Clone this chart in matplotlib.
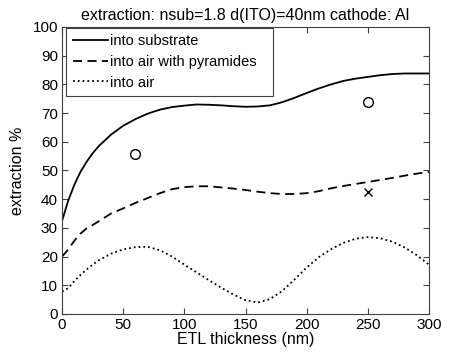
import numpy as np
from matplotlib import pyplot as plt

# ETL thickness (nm)
thickness = [0, 5, 10, 15, 20, 25, 30, 40, 50, 60, 70, 80, 90, 100, 110, 120, 130, 140, 150,
             160, 170, 180, 190, 200, 210, 220, 230, 240, 250, 260, 270, 280, 290, 300]

# extraction %
into_substrate = [32.5, 39.5, 45, 49.5, 53, 56, 58.5, 62.5, 65.6, 67.9, 69.8, 71.2, 72.1,
                  72.6, 73, 72.9, 72.7, 72.4, 72.2, 72.3, 72.7, 73.8, 75.3, 77, 78.6, 80,
                  81.2, 82, 82.6, 83.2, 83.6, 83.8, 83.8, 83.8]
into_air_pyr = [20, 22.5, 25.5, 28, 29.8, 31, 32.3, 35, 36.8, 38.7, 40.4, 42.1, 43.5, 44.2,
                44.5, 44.5, 44.1, 43.7, 43.2, 42.6, 42.1, 41.8, 41.8, 42.1, 42.8, 43.8, 44.6,
                45.3, 46, 46.7, 47.4, 48.2, 48.9, 49.5]
into_air = [7.8, 9, 11.5, 13.6, 15.5, 17.2, 18.7, 21, 22.5, 23.3, 23.4, 22.2, 20, 17.2, 14.5,
            11.8, 9.2, 6.8, 4.8, 4.0, 5.2, 8, 12, 16.2, 19.8, 22.6, 24.8, 26.2, 26.8, 26.4,
            25.2, 23.2, 20.5, 17.2]

# measured points
meas_x = [60, 250]
meas_circle = [55.6, 74]
cross_x = [250]
cross_y = [42.5]

plt.rcParams['font.family'] = ['Liberation Sans', 'DejaVu Sans']
plt.rcParams['font.size'] = 11

fig = plt.figure(figsize=(4.74, 3.55), dpi=100)
ax = fig.add_axes([0.131, 0.1155, 0.774, 0.8085])

ax.plot(thickness, into_substrate, '-', color='black', lw=1.3, label='into substrate')
ax.plot(thickness, into_air_pyr, '--', color='black', lw=1.3, dashes=(5, 3),
        label='into air with pyramides')
ax.plot(thickness, into_air, ':', color='black', lw=1.3, label='into air')
ax.plot(meas_x, meas_circle, 'o', mfc='none', mec='black', ms=7, mew=1.0)
ax.plot(cross_x, cross_y, 'x', color='black', ms=6, mew=1.0)

ax.set_xlim(0, 300)
ax.set_ylim(0, 100)
ax.set_xticks(range(0, 301, 50))
ax.set_yticks(range(0, 101, 10))
ax.tick_params(direction='in', top=True, right=True, length=4, colors='#404040',
               labelcolor='black', pad=3, labelsize=11)
for s in ax.spines.values():
    s.set_color('#404040')

ax.set_xlabel('ETL thickness (nm)', labelpad=0, fontsize=11.5)
ax.set_ylabel('extraction %', labelpad=5, fontsize=11.5)
ax.set_title('extraction: nsub=1.8 d(ITO)=40nm cathode: Al', pad=5, fontsize=11.5)

leg = ax.legend(loc='upper left', bbox_to_anchor=(0.011, 0.0, 0.564, 0.997), mode='expand',
                borderaxespad=0, handlelength=2.4, handletextpad=0.15, fontsize=10.5,
                fancybox=False, framealpha=1, borderpad=0.45, labelspacing=0.45)
leg.get_frame().set_edgecolor('#404040')
leg.get_frame().set_linewidth(0.8)

fig.savefig('out.png', dpi=100)
